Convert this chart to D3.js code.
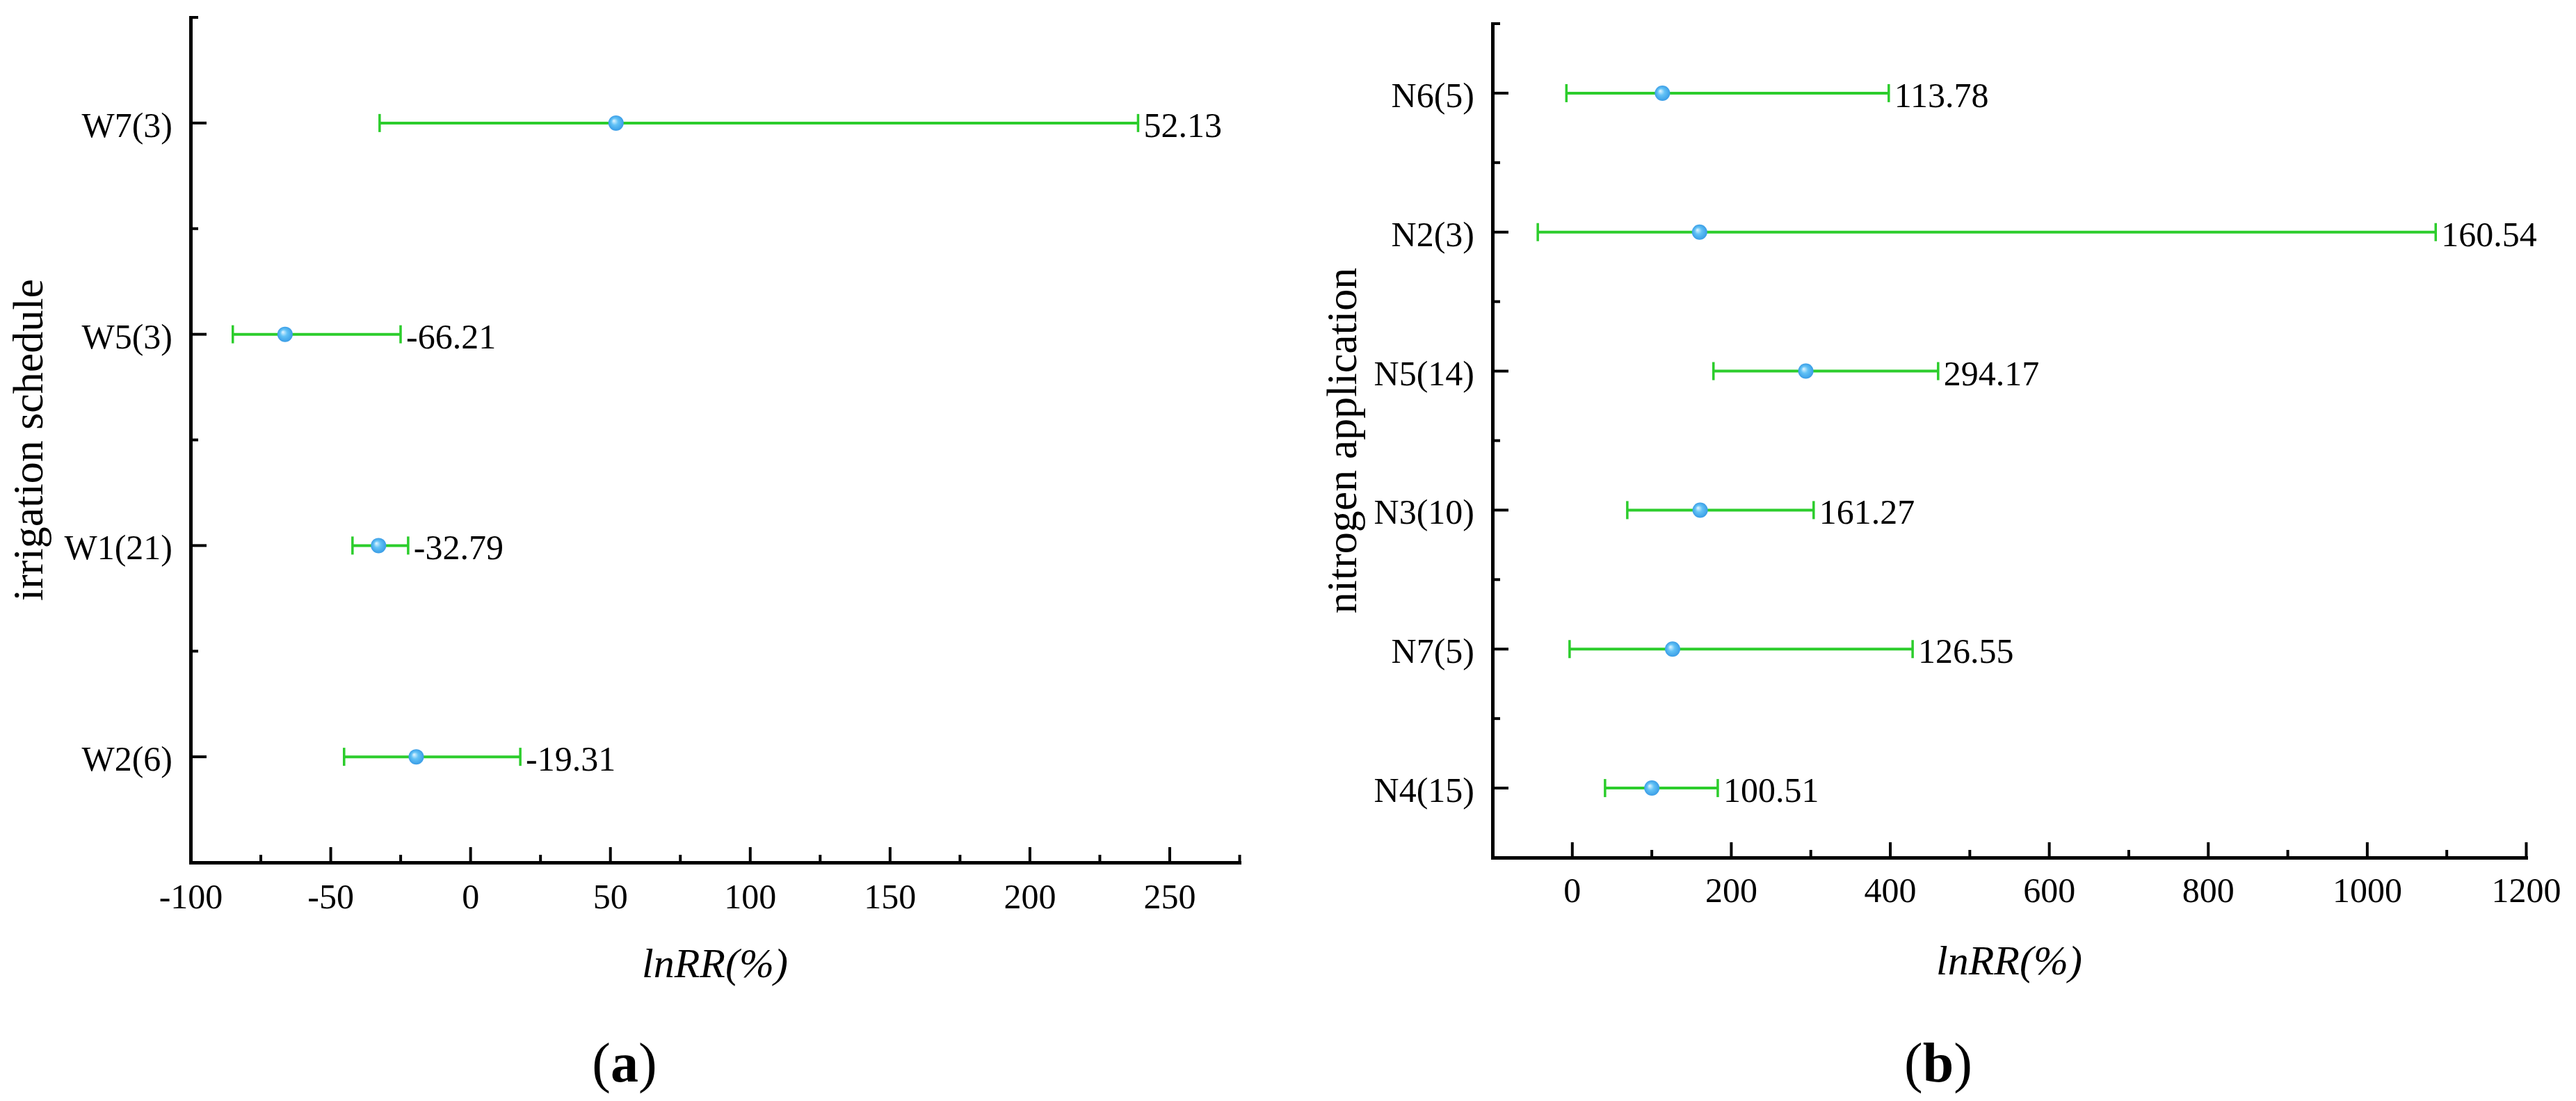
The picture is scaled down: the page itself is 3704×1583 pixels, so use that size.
<!DOCTYPE html>
<html>
<head>
<meta charset="utf-8">
<script src="https://cdn.jsdelivr.net/npm/d3@7/dist/d3.min.js"></script>
<style>
    html, body { margin: 0; padding: 0; background: #fff; }
    svg { display: block; font-family: "Liberation Serif", "Times New Roman", serif; }
</style>
</head>
<body>
<svg id="chart" width="3704" height="1583"></svg>
<script>
// panel (a): irrigation schedule
const irrigationLabels = ["W7(3)", "W5(3)", "W1(21)", "W2(6)"];
const irrigationMean = [52.13, -66.21, -32.79, -19.31];
const irrigationLow = [-32.4, -84.9, -42.1, -45.1];
const irrigationHigh = [238.8, -24.9, -22.2, 17.9];
const irrigationTicks = [-100, -50, 0, 50, 100, 150, 200, 250];
const irrigationMinorTicks = [-75, -25, 25, 75, 125, 175, 225, 275];

// panel (b): nitrogen application
const nitrogenLabels = ["N6(5)", "N2(3)", "N5(14)", "N3(10)", "N7(5)", "N4(15)"];
const nitrogenMean = [113.78, 160.54, 294.17, 161.27, 126.55, 100.51];
const nitrogenLow = [-7, -43, 178, 69.6, -3, 41.6];
const nitrogenHigh = [398.5, 1086.5, 460.6, 304, 428.5, 183.4];
const nitrogenTicks = [0, 200, 400, 600, 800, 1000, 1200];
const nitrogenMinorTicks = [100, 300, 500, 700, 900, 1100];

const green = "#2ccd2c";
const fontSize = 50;

const svg = d3.select("#chart");

const defs = svg.append("defs");
const grad = defs.append("radialGradient").attr("id", "ball").attr("fx", "35%").attr("fy", "35%");
grad.append("stop").attr("offset", "0%").attr("stop-color", "#e4f6ff");
grad.append("stop").attr("offset", "45%").attr("stop-color", "#62c2f6");
grad.append("stop").attr("offset", "100%").attr("stop-color", "#3a9de6");

drawPanel({
    labels: irrigationLabels,
    mean: irrigationMean,
    low: irrigationLow,
    high: irrigationHigh,
    ticks: irrigationTicks,
    minorTicks: irrigationMinorTicks,
    domain: [-100, 275],
    xRange: [274, 1782],
    yRange: [25, 1240],
    yTitle: "irrigation schedule",
    yTitleX: 61,
    xTitleY: 1405,
    tickPad: 30,
    caption: "a",
    captionX: 898,
});

drawPanel({
    labels: nitrogenLabels,
    mean: nitrogenMean,
    low: nitrogenLow,
    high: nitrogenHigh,
    ticks: nitrogenTicks,
    minorTicks: nitrogenMinorTicks,
    domain: [-100, 1200],
    xRange: [2146, 3632],
    yRange: [34, 1233],
    yTitle: "nitrogen application",
    yTitleX: 1950,
    xTitleY: 1401,
    tickPad: 28,
    caption: "b",
    captionX: 2787,
});

function styleAxis(g, tickWidth) {
    g.select(".domain").attr("stroke", "#000").attr("stroke-width", 5).attr("stroke-linecap", "square");
    g.selectAll(".tick line").attr("stroke", "#000").attr("stroke-width", tickWidth);
    g.selectAll(".tick text")
        .attr("fill", "#000")
        .style("font-size", fontSize + "px")
        .style("font-family", '"Liberation Serif", "Times New Roman", serif');
}

function drawPanel(p) {
    const x = d3.scaleLinear().domain(p.domain).range(p.xRange);
    const y = d3.scaleBand().domain(p.labels).range(p.yRange).padding(0);
    const bottom = p.yRange[1];
    const left = p.xRange[0];

    const g = svg.append("g");

    // minor ticks
    g.append("g")
        .attr("transform", `translate(0,${bottom})`)
        .call(d3.axisBottom(x).tickValues(p.minorTicks).tickSize(-11).tickSizeOuter(0).tickFormat(""))
        .call((a) => a.select(".domain").remove())
        .call((a) => a.selectAll(".tick line").attr("stroke", "#000").attr("stroke-width", 4));

    const bounds = y.domain().map((d) => y(d));
    g.append("g")
        .selectAll("line")
        .data(bounds)
        .join("line")
        .attr("x1", left)
        .attr("x2", left + 11)
        .attr("y1", (d) => d)
        .attr("y2", (d) => d)
        .attr("stroke", "#000")
        .attr("stroke-width", 4);

    // major axes
    g.append("g")
        .attr("transform", `translate(0,${bottom})`)
        .call(
            d3.axisBottom(x)
                .tickValues(p.ticks)
                .tickFormat((d) => String(d))
                .tickSize(-22)
                .tickSizeOuter(0)
                .tickPadding(p.tickPad)
        )
        .call((a) => styleAxis(a, 4));

    g.append("g")
        .attr("transform", `translate(${left},0)`)
        .call(d3.axisLeft(y).tickSize(-23).tickSizeOuter(0).tickPadding(26))
        .call((a) => styleAxis(a, 4))
        .call((a) => a.selectAll(".tick text").attr("dy", "0.4em"));

    // error bars
    const rows = p.labels.map((label, i) => ({
        label,
        mean: p.mean[i],
        low: p.low[i],
        high: p.high[i],
    }));
    const cy = (d) => y(d.label) + y.bandwidth() / 2;

    const bars = g.append("g").selectAll("g").data(rows).join("g");

    bars.append("line")
        .attr("x1", (d) => x(d.low))
        .attr("x2", (d) => x(d.high))
        .attr("y1", cy)
        .attr("y2", cy)
        .attr("stroke", green)
        .attr("stroke-width", 4);

    ["low", "high"].forEach((k) => {
        bars.append("line")
            .attr("x1", (d) => x(d[k]))
            .attr("x2", (d) => x(d[k]))
            .attr("y1", (d) => cy(d) - 13)
            .attr("y2", (d) => cy(d) + 13)
            .attr("stroke", green)
            .attr("stroke-width", 3.5);
    });

    bars.append("circle")
        .attr("cx", (d) => x(d.mean))
        .attr("cy", cy)
        .attr("r", 11)
        .attr("fill", "url(#ball)");

    bars.append("text")
        .attr("x", (d) => x(d.high) + 8)
        .attr("y", cy)
        .attr("dy", "0.4em")
        .style("font-size", fontSize + "px")
        .text((d) => d.mean.toFixed(2));

    // titles
    g.append("text")
        .attr("x", (p.xRange[0] + p.xRange[1]) / 2)
        .attr("y", p.xTitleY)
        .attr("text-anchor", "middle")
        .style("font-size", "60px")
        .style("font-style", "italic")
        .text("lnRR(%)");

    g.append("text")
        .attr("transform", `translate(${p.yTitleX},${(p.yRange[0] + p.yRange[1]) / 2}) rotate(-90)`)
        .attr("text-anchor", "middle")
        .style("font-size", "62px")
        .text(p.yTitle);

    const cap = g.append("text")
        .attr("x", p.captionX)
        .attr("y", 1555)
        .attr("text-anchor", "middle")
        .style("font-size", "80px");
    cap.append("tspan").text("(");
    cap.append("tspan").style("font-weight", "bold").text(p.caption);
    cap.append("tspan").text(")");
}
</script>
</body>
</html>
